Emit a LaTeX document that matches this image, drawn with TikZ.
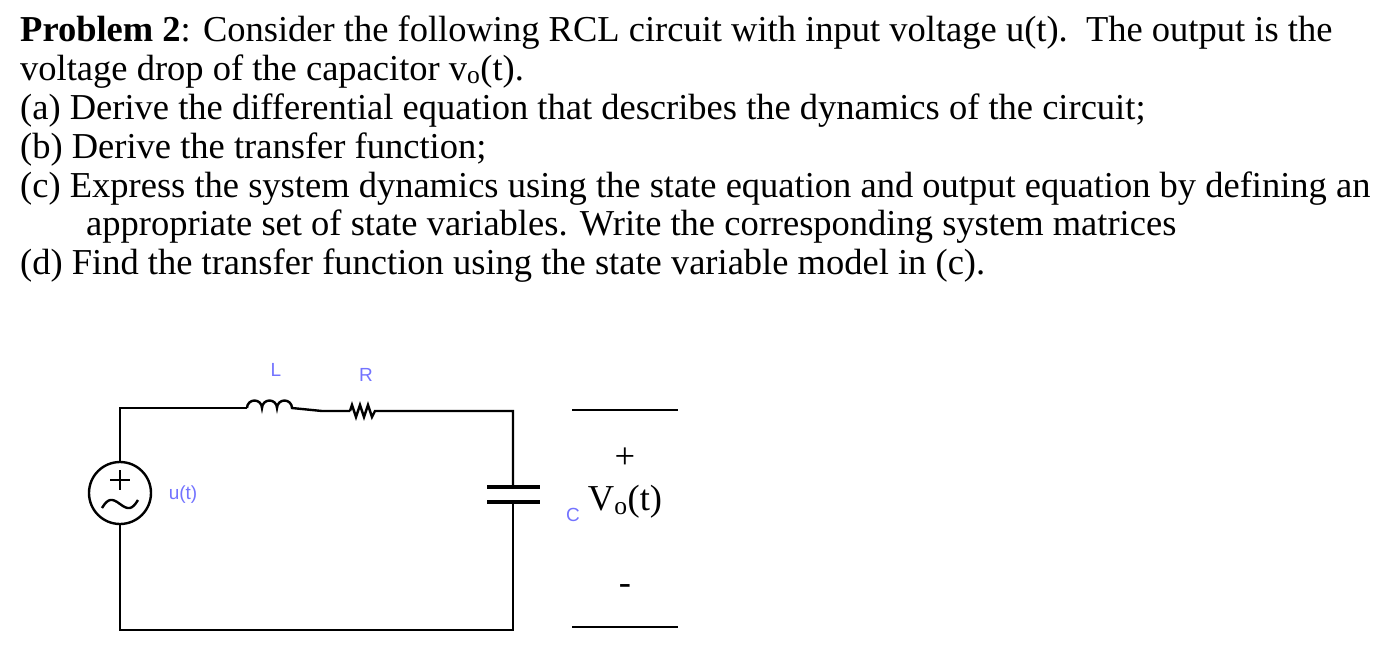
\documentclass[tikz,border=0pt]{standalone}
\usepackage{fontspec}
\setmainfont{Liberation Serif}
\newfontfamily\lab{Liberation Sans}
\begin{document}
\begin{tikzpicture}[x=1pt,y=-1pt,
  txt/.style={anchor=base west,inner sep=0,font=\fontsize{36.5}{40}\selectfont},
  blu/.style={text=blue!55!white,font=\lab\fontsize{19}{20}\selectfont,inner sep=0},
  wire/.style={line width=2.4pt}]
\useasboundingbox (0,0) rectangle (1398,667);
\node[txt] (t1) at (20,41) {\textbf{Problem 2}: Consider the following RCL circuit with input voltage u(t).\ \ The output is the};
\node[txt] (t2) at (20,80) {voltage drop of the capacitor v\textsubscript{o}(t).};
\node[txt] (t3) at (20,119) {(a) Derive the differential equation that describes the dynamics of the circuit;};
\node[txt] (t4) at (20,158) {(b) Derive the transfer function;};
\node[txt] (t5) at (20,197) {(c) Express the system dynamics using the state equation and output equation by defining an};
\node[txt] (t6) at (86,235) {appropriate set of state variables. Write the corresponding system matrices};
\node[txt] (t7) at (20,274) {(d) Find the transfer function using the state variable model in (c).};
% circuit
\node[draw,circle,wire,minimum size=62,inner sep=0] (src) at (120,493) {};
\draw[wire] (110,480) -- (130,480) (120,470) -- (120,490);
\draw[wire] (102,508) .. controls (108,498) and (112,498) .. (120,504) .. controls (128,510) and (132,510) .. (138,500);
\coordinate (tl) at (120,408);
\coordinate (bl) at (120,630);
\coordinate (tr) at (513,411);
\coordinate (br) at (513,630);
\draw[wire] (src.north) -- (tl) -- (247,408);
\draw[wire] (247,408) \foreach \i in {0,1,2} {arc[start angle=180,end angle=360,radius=7.5]} -- (322,411) -- (350,411);
\draw[wire] (350,411) -- (352,405) -- (356,417) -- (360,405) -- (364,417) -- (368,405) -- (372,417) -- (375,411) -- (tr) -- (513,487);
\draw[line width=4.5pt] (487,487) -- (540,487);
\draw[line width=4.5pt] (487,502) -- (540,502);
\draw[wire] (513,502) -- (br) -- (bl) -- (src.south);
\node[blu] (lL) at (276,370) {L};
\node[blu] (lR) at (366,375) {R};
\node[blu] (lu) at (183,495) {u(t)};
\node[blu] (lC) at (573,515) {C};
\draw[line width=2.5pt] (572,410) -- (678,410);
\draw[line width=2.5pt] (572,627) -- (678,627);
\node[txt,anchor=center] (pl) at (625,458) {+};
\node[txt,anchor=center] (vo) at (625,502) {V\textsubscript{o}(t)};
\node[txt,anchor=center] (mi) at (625,590) {-};
\end{tikzpicture}
\end{document}
